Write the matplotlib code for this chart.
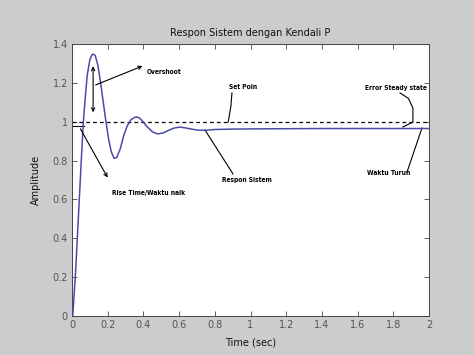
import matplotlib
matplotlib.use("Agg")
import matplotlib.pyplot as plt
import numpy as np

# step response
t = [0, 0.004, 0.02, 0.035, 0.05, 0.062, 0.07, 0.085, 0.1, 0.112, 0.12, 0.13,
     0.145, 0.16, 0.175, 0.19, 0.205, 0.22, 0.235, 0.25, 0.27, 0.29, 0.31,
     0.33, 0.35, 0.365, 0.38, 0.4, 0.42, 0.45, 0.48, 0.51, 0.54, 0.57, 0.6,
     0.63, 0.67, 0.71, 0.75, 0.8, 0.9, 1.0, 1.2, 1.4, 1.6, 1.8, 2.0]
y = [0, 0.0, 0.23, 0.5, 0.77, 0.98, 1.08, 1.24, 1.32, 1.345, 1.348, 1.34,
     1.29, 1.2, 1.1, 1.0, 0.91, 0.845, 0.812, 0.815, 0.86, 0.93, 0.98,
     1.01, 1.022, 1.024, 1.018, 0.998, 0.975, 0.948, 0.937, 0.942, 0.955, 0.967, 0.972,
     0.969, 0.962, 0.956, 0.956, 0.96, 0.962, 0.963, 0.964, 0.965, 0.965, 0.965, 0.965]

set_point = 1.0

fig = plt.figure(figsize=(4.74, 3.55), dpi=100, facecolor="#cccccc")
ax = fig.add_axes([0.152, 0.110, 0.753, 0.766])
ax.set_facecolor("white")

ax.plot(t, y, color="#4b4ba6", lw=1.1, zorder=3)
ax.plot([0, 2], [set_point, set_point], color="black", lw=0.9, ls=(0, (3, 2.5)), zorder=2)

ax.set_xlim(0, 2)
ax.set_ylim(0, 1.4)
ax.set_xticks(np.arange(0, 2.01, 0.2))
ax.set_xticklabels(["0", "0.2", "0.4", "0.6", "0.8", "1", "1.2", "1.4", "1.6", "1.8", "2"])
ax.set_yticks(np.arange(0, 1.41, 0.2))
ax.set_yticklabels(["0", "0.2", "0.4", "0.6", "0.8", "1", "1.2", "1.4"])
ax.tick_params(direction="in", length=3.5, width=0.6, top=True, right=True,
               labelsize=7, labelcolor="#555555", color="#444444", pad=3)
for s in ax.spines.values():
    s.set_color("#444444")
    s.set_linewidth(0.7)

ax.set_title("Respon Sistem dengan Kendali P", fontsize=7, pad=6, color="#111111")
ax.set_xlabel("Time (sec)", fontsize=7, labelpad=5, color="#111111")
ax.set_ylabel("Amplitude", fontsize=7, labelpad=8, color="#111111")

# hand drawn notes
hand = dict(fontsize=4.8, fontweight="bold", family="DejaVu Sans", fontstretch="condensed",
            color="black")
arw = dict(arrowstyle="->", lw=0.8, color="black", mutation_scale=6)

ax.annotate("", xy=(0.409, 1.292), xytext=(0.118, 1.184), arrowprops=arw)
ax.text(0.42, 1.256, "Overshoot", va="center", ha="left", **hand)
ax.annotate("", xy=(0.118, 1.30), xytext=(0.118, 1.034),
            arrowprops=dict(arrowstyle="<->", lw=0.8, color="black", mutation_scale=6))

ax.plot([0.875, 0.89, 0.896], [0.998, 1.08, 1.148], color="black", lw=0.8)
ax.text(0.88, 1.18, "Set Poin", va="center", ha="left", **hand)

ax.plot([1.838, 1.885, 1.91, 1.91, 1.854], [1.148, 1.12, 1.07, 0.998, 0.973],
        color="black", lw=0.8)
ax.text(1.64, 1.173, "Error Steady state", va="center", ha="left", **hand)

ax.plot([1.877, 1.961], [0.741, 0.968], color="black", lw=0.8)
ax.text(1.65, 0.736, "Waktu Turun", va="center", ha="left", **hand)

ax.plot([0.902, 0.745], [0.731, 0.957], color="black", lw=0.8)
ax.text(0.84, 0.70, "Respon Sistem", va="center", ha="left", **hand)

ax.plot([0, 0.068], [0.976, 0.976], color="black", lw=0.8)
ax.annotate("", xy=(0.207, 0.70), xytext=(0.039, 0.976), arrowprops=arw)
ax.text(0.224, 0.633, "Rise Time/Waktu naik", va="center", ha="left", **hand)

fig.savefig("out.png", dpi=100, facecolor=fig.get_facecolor())
